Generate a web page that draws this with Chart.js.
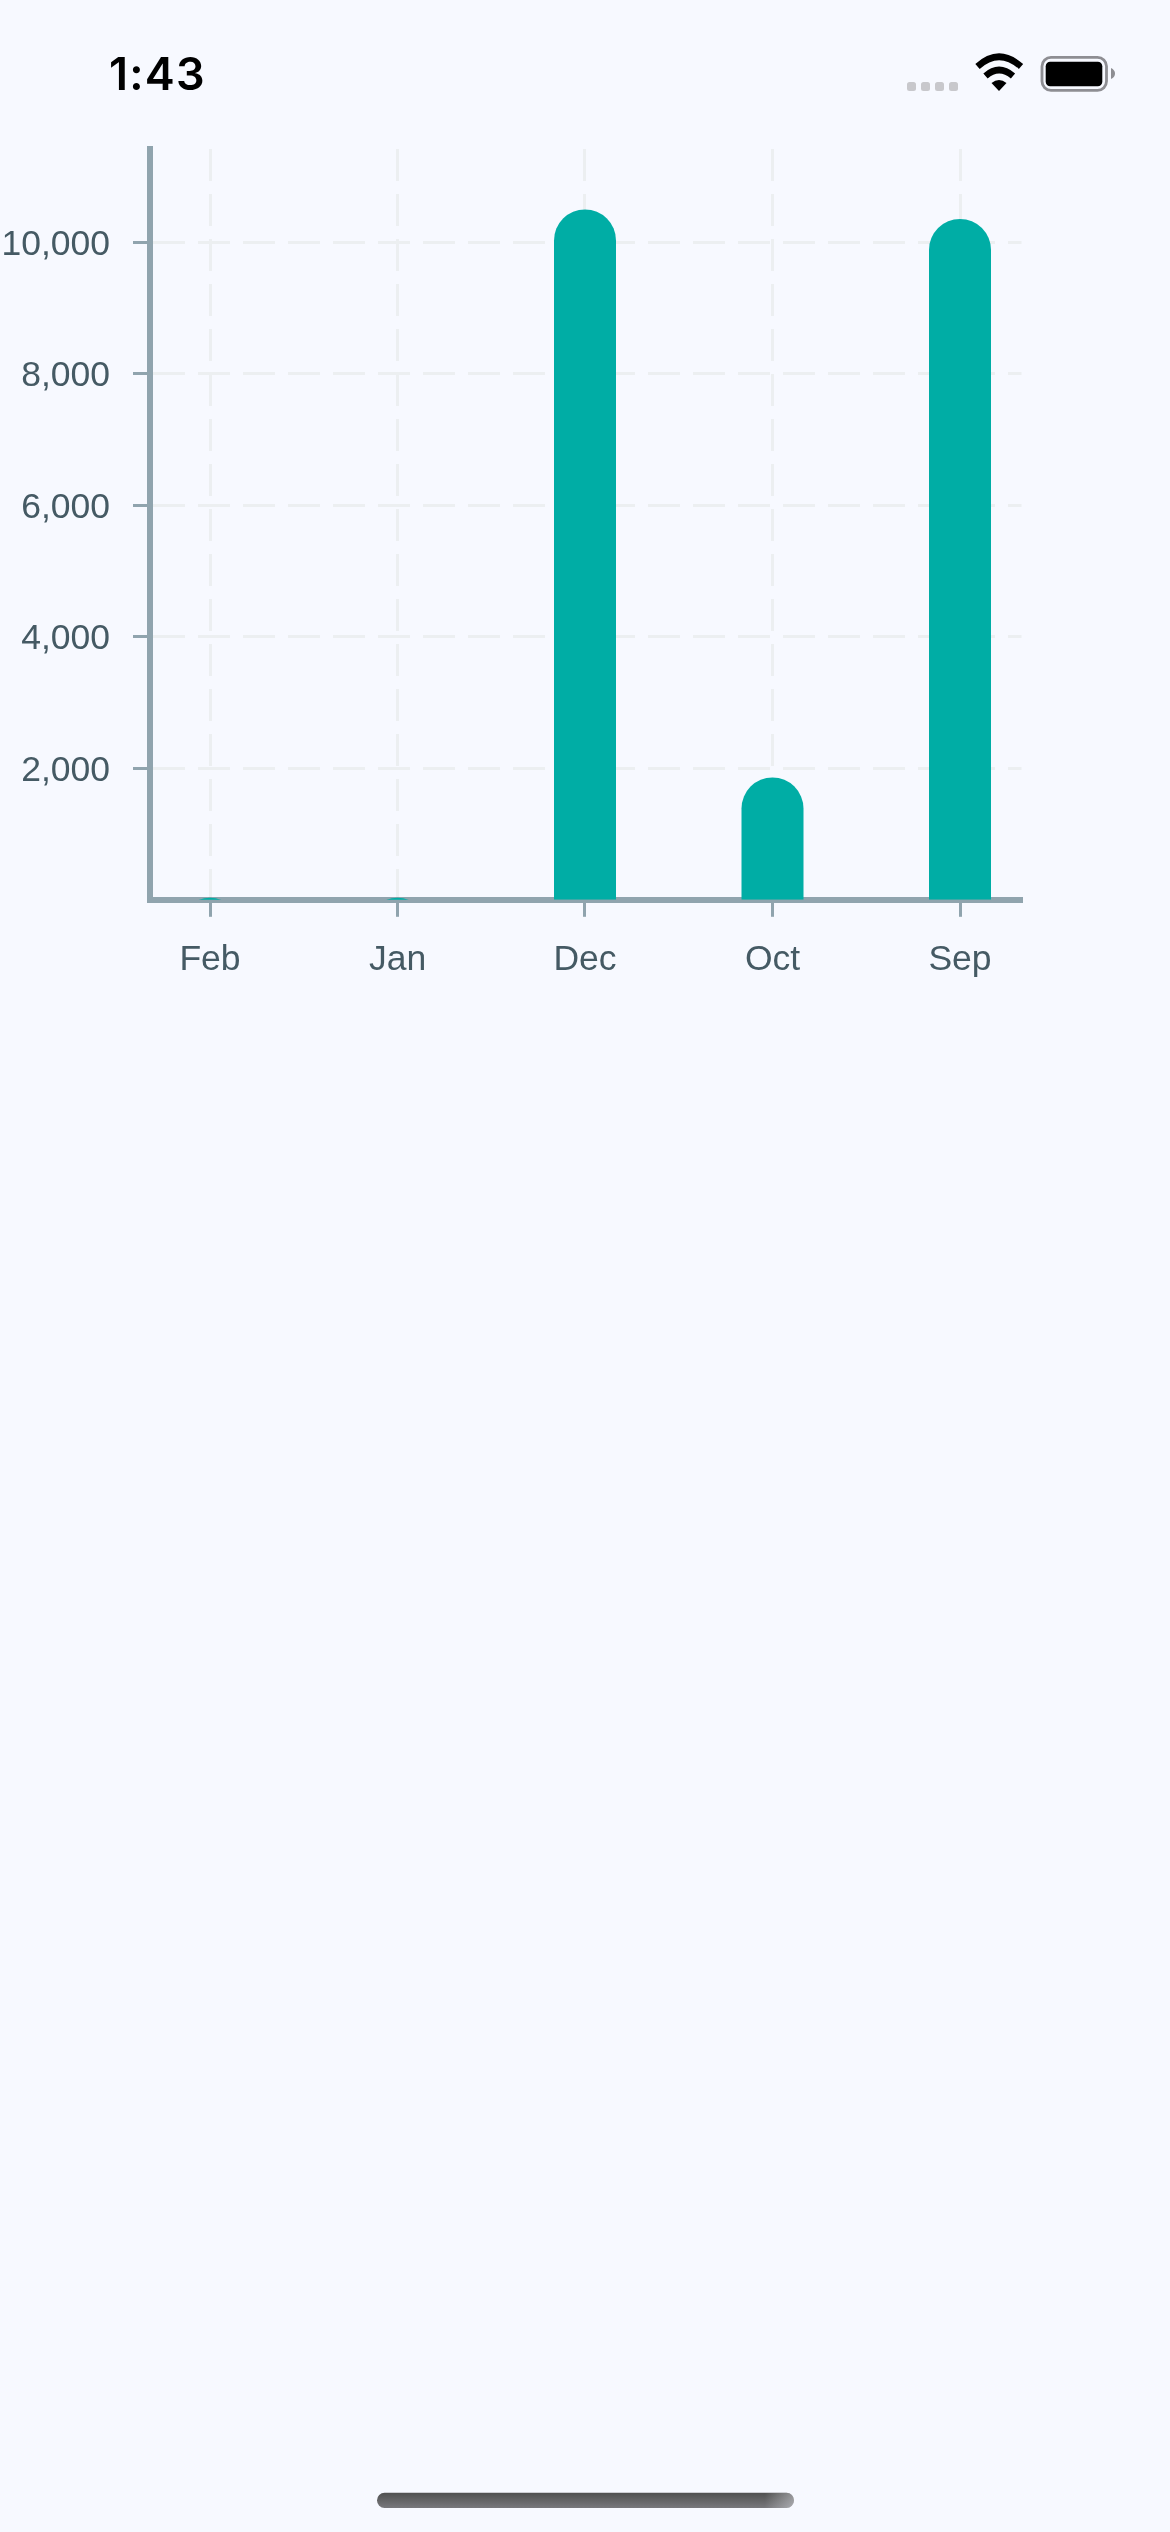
<!DOCTYPE html>
<html>
<head>
<meta charset="utf-8">
<style>
html,body{margin:0;padding:0;background:#F7F9FF;width:1170px;height:2532px;overflow:hidden;position:relative}
#wrap{position:absolute;left:0;top:0;width:1170px;height:1000px}
#c{display:block;width:1170px;height:1000px}
#time{position:absolute;left:109px;top:47px;font:600 45px/54px Inter,"Liberation Sans",sans-serif;color:#000;letter-spacing:1.2px}
svg{position:absolute;left:0;top:0}
</style>
</head>
<body>
<div id="wrap"><canvas id="c" width="1170" height="1000"></canvas></div>
<div id="time">1:43</div>
<svg width="1170" height="2532" viewBox="0 0 1170 2532">
  <defs>
    <linearGradient id="hg" x1="0" y1="0" x2="0" y2="1"><stop offset="0" stop-color="#505050"/><stop offset="1" stop-color="#78787c"/></linearGradient>
    <linearGradient id="hr" x1="0" y1="0" x2="1" y2="0"><stop offset="0.93" stop-color="#F7F9FF" stop-opacity="0"/><stop offset="1" stop-color="#F7F9FF" stop-opacity="0.4"/></linearGradient>
  </defs>
  <g fill="#C8C8CC">
    <rect x="907" y="82" width="9" height="9" rx="2.5"/>
    <rect x="921" y="82" width="9" height="9" rx="2.5"/>
    <rect x="935" y="82" width="9" height="9" rx="2.5"/>
    <rect x="949" y="82" width="9" height="9" rx="2.5"/>
  </g>
  <g fill="none" stroke="#000" stroke-width="6.5">
    <path d="M977.5 66.5 Q999 47 1021 66.5"/>
    <path d="M985.5 76 Q999 64 1013 76"/>
  </g>
  <path d="M999 91 L991.5 83 Q999 77 1006.5 83 Z" fill="#000"/>
  <rect x="1042" y="57.300" width="64.500" height="33" rx="9" fill="none" stroke="#8E8E93" stroke-width="2.800"/>
  <rect x="1045.700" y="61.700" width="56.600" height="24.600" rx="4.500" fill="#000"/>
  <path d="M1111 68 Q1115 70 1115 73.500 Q1115 77 1111 79 Z" fill="#8E8E93"/>
  <rect x="377" y="2492.700" width="417" height="15.300" rx="7.500" fill="url(#hg)"/>
  <rect x="377" y="2492.700" width="417" height="15.300" rx="7.500" fill="url(#hr)"/>
</svg>
<script src="https://cdn.jsdelivr.net/npm/chart.js@4"></script>
<script>
const categories = ["Feb", "Jan", "Dec", "Oct", "Sep"];
const values = [30, 30, 10500, 1860, 10355];
const yTicks = [2000, 4000, 6000, 8000, 10000];

const AXIS = "#90A4AE", GRID = "#ECEFF1", LABEL = "#455A64", BAR = "#00ADA5";
const FONT = {family: '"Liberation Sans", Arial, sans-serif', size: 35.5};

// Victory-style cap: the top of each bar is a full semicircle, cut off at the
// baseline, so very short bars show only a sliver of the circle.
Chart.BarElement.prototype.draw = function (ctx) {
  const {x, y, base, width} = this.getProps(["x", "y", "base", "width"]);
  const r = width / 2;
  ctx.save();
  ctx.beginPath();
  ctx.rect(x - r - 1, y - 1, width + 2, base - y + 1);
  ctx.clip();
  ctx.beginPath();
  ctx.arc(x, y + r, r, Math.PI, 0);
  ctx.lineTo(x + r, Math.max(base, y + r));
  ctx.lineTo(x - r, Math.max(base, y + r));
  ctx.closePath();
  ctx.fillStyle = this.options.backgroundColor;
  ctx.fill();
  ctx.restore();
};

new Chart(document.getElementById("c"), {
  type: "bar",
  data: {
    datasets: [{
      data: categories.map((c, i) => ({x: i, y: values[i]})),
      backgroundColor: BAR,
      barThickness: 62,
      clip: false
    }]
  },
  options: {
    responsive: false,
    animation: false,
    devicePixelRatio: 1,
    layout: {padding: {top: 149, right: 148.5, left: 0, bottom: 0}},
    plugins: {legend: {display: false}, tooltip: {enabled: false}},
    scales: {
      x: {
        type: "linear",
        offset: false,
        min: -0.32,
        max: 4.328,
        afterBuildTicks(s) { s.ticks = categories.map((c, i) => ({value: i})); },
        afterFit(s) { s.height = 100.2; },
        grid: {offset: false, color: GRID, lineWidth: 3, tickColor: AXIS, tickWidth: 3, tickLength: 17},
        border: {color: AXIS, width: 6, dash: [32, 13]},
        ticks: {
          color: LABEL, font: FONT, padding: 22, maxRotation: 0, autoSkip: false,
          callback: v => categories[v]
        }
      },
      y: {
        min: 0,
        max: 11419,
        afterBuildTicks(s) { s.ticks = yTicks.map(v => ({value: v})); },
        afterFit(s) { s.width = 150; },
        grid: {color: GRID, lineWidth: 3, tickColor: AXIS, tickWidth: 3, tickLength: 17},
        border: {color: AXIS, width: 6, dash: [32, 13]},
        ticks: {
          color: LABEL, font: FONT, padding: 23, labelOffset: 2.5,
          callback: v => v.toLocaleString("en-US")
        }
      }
    }
  }
});
</script>
</body>
</html>
